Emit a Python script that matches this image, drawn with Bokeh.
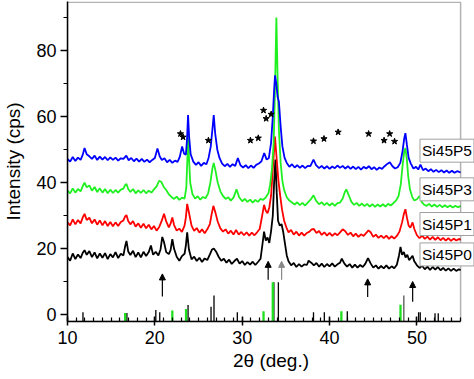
from bokeh.plotting import figure
from bokeh.models import (ColumnDataSource, Label, Arrow, NormalHead,
                          SingleIntervalTicker, BoxAnnotation)
from bokeh.embed import file_html
from bokeh.resources import INLINE

# ---------------- data ----------------
P0 = [(10.0,17.5),(10.3,16.4),(10.6,18.6),(10.9,16.9),(11.2,18.3),(11.5,17.2),(11.75,18.8),(11.95,19.6),(12.2,18.2),(12.5,19.3),(12.8,17.5),(13.1,18.9),(13.4,17.1),(13.7,18.6),(14.0,17.3),(14.3,18.7),(14.6,16.9),(14.9,18.4),(15.2,17.4),(15.5,19.0),(15.8,17.2),(16.1,18.5),(16.4,18.0),(16.6,20.8),(16.75,22.4),(16.95,19.2),(17.2,18.1),(17.5,19.4),(17.8,17.5),(18.1,18.9),(18.4,17.4),(18.7,19.1),(19.0,17.8),(19.3,19.0),(19.55,21.0),(19.8,18.2),(20.1,19.1),(20.4,18.0),(20.65,19.8),(20.85,23.6),(21.05,22.0),(21.3,19.0),(21.6,18.4),(21.8,19.6),(22.0,22.9),(22.2,20.0),(22.5,17.6),(22.8,16.4),(23.1,17.8),(23.4,18.5),(23.55,21.0),(23.7,25.0),(23.9,19.8),(24.2,16.8),(24.5,17.6),(24.8,16.3),(25.1,17.3),(25.4,16.0),(25.7,17.1),(26.0,16.6),(26.3,18.3),(26.55,19.8),(26.75,20.1),(27.0,19.2),(27.3,17.6),(27.6,16.4),(27.9,17.0),(28.2,15.8),(28.5,16.7),(28.8,15.4),(29.1,16.3),(29.4,17.0),(29.7,15.5),(30.0,16.3),(30.3,15.1),(30.6,16.0),(30.9,15.2),(31.2,16.1),(31.5,15.1),(31.8,16.0),(32.1,17.0),(32.3,21.0),(32.5,25.2),(32.7,22.5),(32.9,23.4),(33.1,21.8),(33.3,25.3),(33.5,30.0),(33.65,40.0),(33.8,47.0),(33.95,37.0),(34.1,28.5),(34.3,27.0),(34.5,27.5),(34.7,25.0),(34.9,21.5),(35.1,18.0),(35.3,16.2),(35.6,15.0),(35.9,15.7),(36.2,14.5),(36.5,15.4),(36.8,14.6),(37.1,15.3),(37.4,15.1),(37.6,16.4),(37.9,15.8),(38.2,15.0),(38.5,15.7),(38.8,14.6),(39.1,15.5),(39.4,14.5),(39.7,15.4),(40.0,14.7),(40.3,15.6),(40.6,14.6),(40.9,15.3),(41.2,15.8),(41.4,17.0),(41.7,15.5),(42.0,14.6),(42.3,15.4),(42.6,14.3),(42.9,15.2),(43.2,14.3),(43.5,15.1),(43.8,14.5),(44.1,15.5),(44.4,17.2),(44.7,15.6),(45.0,14.3),(45.3,15.0),(45.6,14.0),(45.9,14.8),(46.2,14.1),(46.5,15.0),(46.8,14.0),(47.1,14.7),(47.4,14.1),(47.7,15.2),(47.95,18.0),(48.12,20.6),(48.3,18.2),(48.5,19.0),(48.7,17.4),(48.9,18.2),(49.1,16.6),(49.3,17.2),(49.5,17.9),(49.7,16.2),(50.0,15.0),(50.3,14.2),(50.6,14.9),(50.9,13.8),(51.2,14.6),(51.5,13.6),(51.8,14.5),(52.1,13.7),(52.4,14.5),(52.7,13.5),(53.0,14.2),(53.3,13.4),(53.6,14.1),(53.9,13.3),(54.2,14.0),(54.5,13.3),(54.8,13.8),(55.0,13.5)]

P1 = [(10.0,28.0),(10.3,27.1),(10.6,28.9),(10.9,27.4),(11.2,28.7),(11.5,27.7),(11.75,29.5),(11.95,30.6),(12.2,28.7),(12.5,29.4),(12.8,27.7),(13.1,28.9),(13.4,27.3),(13.7,28.6),(14.0,27.1),(14.3,28.4),(14.6,26.9),(14.9,28.1),(15.2,26.8),(15.5,28.0),(15.8,26.9),(16.1,28.1),(16.4,28.6),(16.6,29.8),(16.75,30.2),(16.95,28.4),(17.2,27.4),(17.5,28.4),(17.8,26.7),(18.1,27.7),(18.4,26.4),(18.7,27.6),(19.0,26.2),(19.3,27.3),(19.6,25.9),(19.9,26.9),(20.2,25.5),(20.5,26.6),(20.8,28.6),(21.05,30.6),(21.3,28.3),(21.6,26.5),(21.8,27.6),(22.0,29.5),(22.2,27.2),(22.5,25.5),(22.8,26.1),(23.1,25.1),(23.4,27.0),(23.55,29.5),(23.7,33.6),(23.9,31.0),(24.2,27.0),(24.5,25.4),(24.8,26.3),(25.1,24.9),(25.4,25.9),(25.7,24.7),(26.0,25.9),(26.3,27.5),(26.5,30.5),(26.7,33.0),(26.95,30.8),(27.2,28.2),(27.5,26.2),(27.8,25.2),(28.1,25.9),(28.4,24.6),(28.7,25.5),(29.0,24.3),(29.3,25.7),(29.6,24.3),(29.9,25.1),(30.2,24.1),(30.5,25.0),(30.8,24.0),(31.1,24.9),(31.4,24.1),(31.7,25.0),(32.0,26.0),(32.25,29.5),(32.5,33.3),(32.7,31.5),(32.9,30.8),(33.1,32.5),(33.3,36.0),(33.5,44.0),(33.75,54.0),(33.95,47.0),(34.15,40.5),(34.35,36.0),(34.55,32.0),(34.8,28.5),(35.05,26.5),(35.3,25.0),(35.6,25.7),(35.9,24.3),(36.2,25.2),(36.5,24.0),(36.8,24.9),(37.1,24.0),(37.4,24.8),(37.7,25.2),(37.95,25.9),(38.2,26.0),(38.5,24.8),(38.8,25.4),(39.1,24.2),(39.4,25.0),(39.7,24.0),(40.0,24.8),(40.3,23.9),(40.6,24.7),(40.9,24.1),(41.2,25.0),(41.5,25.9),(41.8,25.3),(42.1,24.2),(42.4,24.9),(42.7,23.8),(43.0,24.6),(43.3,23.6),(43.6,24.4),(43.9,23.9),(44.2,24.8),(44.45,25.6),(44.7,25.0),(45.0,23.6),(45.3,24.3),(45.6,23.3),(45.9,24.0),(46.2,23.2),(46.5,24.0),(46.8,23.0),(47.1,23.8),(47.4,23.1),(47.7,23.9),(48.0,25.2),(48.3,28.0),(48.5,30.5),(48.68,32.0),(48.85,29.5),(49.05,27.0),(49.25,26.4),(49.5,28.0),(49.7,26.0),(50.0,24.1),(50.3,23.2),(50.6,24.0),(50.9,23.0),(51.2,23.7),(51.5,22.8),(51.8,23.6),(52.1,22.7),(52.4,23.5),(52.7,22.6),(53.0,23.3),(53.3,22.5),(53.6,23.2),(53.9,22.4),(54.2,23.1),(54.5,22.5),(54.8,23.0),(55.0,22.7)]

P3 = [(10.0,37.6),(10.3,36.8),(10.6,38.3),(10.9,37.0),(11.2,38.1),(11.5,37.4),(11.75,39.0),(11.95,40.0),(12.2,38.6),(12.5,39.2),(12.8,37.6),(13.1,38.7),(13.4,37.2),(13.7,38.3),(14.0,37.0),(14.3,38.1),(14.6,36.8),(14.9,37.9),(15.2,36.9),(15.5,37.8),(15.8,37.0),(16.1,37.9),(16.4,38.2),(16.6,39.3),(16.75,39.6),(16.95,38.1),(17.2,37.2),(17.5,38.1),(17.8,36.8),(18.1,37.7),(18.4,36.9),(18.7,37.8),(19.0,36.8),(19.3,37.6),(19.6,37.0),(19.9,38.0),(20.2,38.9),(20.49,40.6),(20.75,40.2),(21.0,38.8),(21.3,37.8),(21.6,36.5),(21.9,35.7),(22.2,35.1),(22.5,35.8),(22.8,34.8),(23.1,35.5),(23.4,35.2),(23.6,38.5),(23.72,47.0),(23.8,57.0),(23.9,48.0),(24.05,40.0),(24.3,36.6),(24.6,35.2),(24.9,35.9),(25.2,34.9),(25.5,35.7),(25.8,35.3),(26.1,36.8),(26.35,40.0),(26.6,44.5),(26.74,46.0),(26.95,43.5),(27.2,40.0),(27.5,37.4),(27.8,36.0),(28.1,35.1),(28.4,35.6),(28.7,34.6),(29.0,35.5),(29.35,38.0),(29.65,35.6),(30.0,34.4),(30.3,35.1),(30.6,34.2),(30.9,34.9),(31.2,34.0),(31.5,34.8),(31.8,34.2),(32.1,35.1),(32.4,34.8),(32.7,35.6),(33.0,36.8),(33.2,39.5),(33.4,44.0),(33.6,52.0),(33.75,68.0),(33.91,90.0),(34.05,72.0),(34.2,56.0),(34.4,46.0),(34.6,40.5),(34.8,37.8),(35.1,35.6),(35.4,34.6),(35.7,34.0),(36.0,33.4),(36.3,34.1),(36.6,33.2),(36.9,33.9),(37.2,33.1),(37.5,34.0),(37.8,34.8),(38.16,36.2),(38.45,34.6),(38.8,33.5),(39.1,34.1),(39.4,33.2),(39.7,33.9),(40.0,33.1),(40.3,33.8),(40.6,33.0),(40.9,33.8),(41.2,34.0),(41.5,35.2),(41.75,37.2),(41.92,38.0),(42.2,36.2),(42.5,34.2),(42.8,33.3),(43.1,33.9),(43.4,33.0),(43.7,33.7),(44.0,32.9),(44.3,33.6),(44.6,32.8),(44.9,33.5),(45.2,32.7),(45.5,33.4),(45.8,32.8),(46.1,33.5),(46.4,32.8),(46.7,33.6),(47.0,33.1),(47.3,33.8),(47.6,34.6),(47.9,36.0),(48.15,39.5),(48.35,45.0),(48.55,49.5),(48.68,50.5),(48.85,47.0),(49.0,42.0),(49.2,38.0),(49.45,35.8),(49.7,34.6),(50.0,35.0),(50.3,36.0),(50.55,34.2),(50.8,33.4),(51.1,33.0),(51.4,33.6),(51.7,32.8),(52.0,33.4),(52.3,32.7),(52.6,33.3),(52.9,32.6),(53.2,33.2),(53.5,32.6),(53.8,33.1),(54.1,32.5),(54.4,33.0),(54.7,32.6),(55.0,32.9)]

P5 = [(10.0,47.2),(10.3,46.4),(10.6,47.8),(10.9,46.6),(11.2,47.6),(11.5,46.9),(11.75,48.5),(11.95,50.5),(12.2,48.6),(12.5,48.0),(12.8,47.2),(13.1,48.2),(13.4,46.9),(13.7,47.9),(14.0,47.0),(14.3,47.8),(14.6,46.8),(14.9,47.7),(15.2,46.9),(15.5,47.6),(15.8,46.7),(16.1,47.4),(16.4,47.2),(16.73,48.2),(17.0,46.8),(17.3,47.5),(17.6,46.5),(17.9,47.3),(18.2,46.4),(18.5,47.2),(18.8,46.3),(19.1,47.0),(19.4,46.2),(19.7,46.9),(20.0,47.5),(20.3,50.4),(20.55,48.0),(20.8,46.9),(21.1,47.4),(21.4,46.2),(21.7,46.9),(22.0,46.0),(22.3,46.7),(22.6,46.3),(22.85,47.8),(23.12,51.0),(23.35,48.8),(23.55,48.5),(23.68,53.0),(23.8,60.5),(23.92,54.0),(24.1,48.6),(24.4,46.4),(24.7,45.4),(25.0,46.2),(25.3,45.1),(25.6,46.0),(25.9,45.6),(26.15,47.5),(26.4,51.0),(26.6,56.5),(26.74,60.5),(26.9,55.0),(27.15,50.0),(27.4,47.5),(27.7,45.8),(28.0,45.0),(28.3,45.7),(28.6,44.8),(28.9,45.6),(29.2,45.1),(29.5,47.5),(29.8,45.3),(30.1,44.6),(30.4,45.3),(30.7,44.4),(31.0,45.2),(31.3,44.5),(31.6,45.4),(31.9,45.8),(32.2,46.5),(32.52,49.0),(32.8,47.0),(33.05,47.5),(33.3,52.0),(33.5,60.0),(33.65,68.0),(33.76,72.5),(33.9,70.0),(34.05,66.0),(34.2,64.5),(34.4,57.0),(34.6,51.0),(34.85,47.5),(35.1,46.0),(35.4,44.8),(35.7,45.6),(36.0,44.6),(36.3,45.3),(36.6,44.5),(36.9,45.2),(37.2,44.4),(37.5,45.1),(37.8,45.0),(38.16,47.0),(38.45,45.3),(38.8,44.4),(39.1,45.1),(39.4,44.3),(39.7,45.0),(40.0,44.2),(40.3,44.9),(40.6,44.4),(40.9,45.2),(41.2,44.5),(41.5,45.1),(41.8,44.3),(42.1,45.0),(42.4,44.2),(42.7,44.9),(43.0,44.1),(43.3,44.8),(43.6,44.0),(43.9,44.8),(44.2,44.3),(44.5,45.0),(44.8,44.1),(45.1,44.7),(45.4,43.9),(45.7,44.6),(46.0,44.2),(46.3,45.0),(46.6,45.7),(46.9,46.2),(47.2,45.0),(47.5,44.3),(47.8,44.7),(48.1,46.0),(48.35,49.5),(48.55,53.5),(48.68,55.0),(48.85,51.5),(49.05,47.5),(49.3,45.8),(49.6,44.3),(49.9,44.8),(50.15,44.0),(50.4,45.5),(50.7,43.8),(51.0,44.3),(51.3,43.5),(51.6,44.1),(51.9,43.3),(52.2,43.9),(52.5,43.2),(52.8,43.8),(53.1,43.1),(53.4,43.7),(53.7,43.0),(54.0,43.6),(54.3,43.0),(54.6,43.5),(55.0,43.1)]

series_names = ["Si45P0", "Si45P1", "Si45P3", "Si45P5"]
series_colors = ["#000000", "#ff0000", "#1ff01f", "#0000ff"]
label_y = [18.3, 27.5, 38.0, 49.7]

# reference stick patterns (position, height)
black_stick_x = [11.77, 16.8, 20.11, 20.56, 23.8, 26.43, 26.77, 29.44, 33.62, 34.14, 38.16, 39.4, 42.03, 50.19, 50.38, 52.07, 52.44]
black_stick_h = [0.8, 0.6, 1.5, 0.8, 3.0, 2.5, 5.9, 0.8, 9.9, 9.9, 0.8, 0.8, 1.1, 0.8, 0.8, 0.5, 0.5]
gray_stick_x = [48.5]
gray_stick_h = [5.9]
green_stick_x = [16.6, 22.0, 23.57, 32.44, 33.5, 41.35, 48.12]
green_stick_h = [0.6, 1.3, 1.8, 1.1, 9.9, 1.1, 3.1]

# star markers
star_x = [22.93, 23.23, 26.13, 30.94, 31.84, 32.44, 32.74, 33.31, 38.16, 39.36, 40.98, 44.47, 46.24, 46.88, 47.44]
star_y = [54.8, 53.8, 52.8, 52.8, 53.5, 61.9, 59.4, 60.7, 52.6, 53.3, 55.3, 54.8, 52.8, 54.8, 52.5]

# arrows (x, start y, end y)
arrow_x = [20.86, 32.97, 44.36, 49.51]
arrow_y0 = [5.6, 10.6, 5.4, 4.0]
arrow_y1 = [12.4, 16.2, 10.9, 10.1]
gray_arrow_x = [34.51]
gray_arrow_y0 = [10.6]
gray_arrow_y1 = [16.2]

X_MIN, X_MAX = 10, 55
Y_MIN, Y_MAX = -2, 94.85
FONT = "Liberation Sans"

# frame runs to the right edge of the canvas so the label boxes can overhang
p = figure(width=474, height=379, x_range=(X_MIN, 56.59), y_range=(Y_MIN, Y_MAX),
           output_backend="svg", toolbar_location=None,
           min_border_left=63, min_border_right=0, min_border_top=1,
           min_border_bottom=58)
p.background_fill_color = "white"
p.border_fill_color = "white"
p.outline_line_color = None
p.xgrid.visible = False
p.ygrid.visible = False

# plot box (right and top edges)
p.add_layout(BoxAnnotation(left=X_MIN, right=X_MAX, bottom=Y_MIN, top=Y_MAX - 0.25,
                           fill_alpha=0, line_color="black", line_width=1.5))

# sticks from the bottom of the frame
p.segment(x0=black_stick_x, y0=[Y_MIN] * len(black_stick_x), x1=black_stick_x,
          y1=black_stick_h, line_color="black", line_width=1.3)
p.segment(x0=gray_stick_x, y0=[Y_MIN] * len(gray_stick_x), x1=gray_stick_x,
          y1=gray_stick_h, line_color="#555555", line_width=1.3)
p.segment(x0=green_stick_x, y0=[Y_MIN] * len(green_stick_x), x1=green_stick_x,
          y1=green_stick_h, line_color="#1ee01e", line_width=2.3)

for data, color in zip([P0, P1, P3, P5], series_colors):
    xs = [a for a, b in data]
    ys = [b for a, b in data]
    p.line(xs, ys, line_color=color, line_width=1.8)

p.scatter(star_x, star_y, marker="star", size=6.5, fill_color="black",
          line_color="black")

asrc = ColumnDataSource(dict(x=arrow_x, y0=arrow_y0, y1=arrow_y1))
p.add_layout(Arrow(end=NormalHead(size=6, fill_color="black", line_color="black"),
                   x_start="x", y_start="y0", x_end="x", y_end="y1",
                   source=asrc, line_color="black", line_width=1.2))
gsrc = ColumnDataSource(dict(x=gray_arrow_x, y0=gray_arrow_y0, y1=gray_arrow_y1))
p.add_layout(Arrow(end=NormalHead(size=6, fill_color="#888888", line_color="#888888"),
                   x_start="x", y_start="y0", x_end="x", y_end="y1",
                   source=gsrc, line_color="#888888", line_width=1.2))

# label boxes
pad = dict(left=2, right=2, top=3, bottom=3)
for name, ly in zip(series_names, label_y):
    shadow = Label(x=50.35, y=ly, text=name, text_font=FONT, text_font_size="15.5px",
                   text_baseline="middle", text_align="left", x_offset=2, y_offset=-1.5,
                   text_alpha=0.0, background_fill_color="#8a8a8a", padding=pad)
    p.add_layout(shadow)
    lab = Label(x=50.35, y=ly, text=name, text_font=FONT, text_font_size="15.5px",
                text_baseline="middle", text_align="left", text_color="black",
                background_fill_color="white", border_line_color="#a0a0a0",
                border_line_width=1, padding=pad)
    p.add_layout(lab)

# axes
p.xaxis.ticker = SingleIntervalTicker(interval=10, num_minor_ticks=10)
p.yaxis.ticker = SingleIntervalTicker(interval=20, num_minor_ticks=2)
p.xaxis.bounds = (X_MIN, X_MAX)
for ax in (p.xaxis[0], p.yaxis[0]):
    ax.axis_line_width = 1.5
    ax.major_tick_line_width = 1.5
    ax.minor_tick_line_width = 1.2
    ax.major_label_text_font = FONT
    ax.major_label_text_font_size = "18px"
    ax.major_label_text_color = "black"
    ax.axis_label_text_font = FONT
    ax.axis_label_text_font_size = "19px"
    ax.axis_label_text_font_style = "normal"
    ax.axis_label_text_color = "black"

p.xaxis.axis_label = "2θ (deg.)"
p.xaxis.major_tick_in = 5
p.xaxis.major_tick_out = 4
p.xaxis.minor_tick_in = 4
p.xaxis.minor_tick_out = 0
p.xaxis.major_label_standoff = 5
p.xaxis.axis_label_standoff = 3

p.yaxis.axis_label = "Intensity (cps)"
p.yaxis.major_tick_in = 0
p.yaxis.major_tick_out = 7
p.yaxis.minor_tick_in = 0
p.yaxis.minor_tick_out = 4
p.yaxis.major_label_standoff = 4
p.yaxis.axis_label_standoff = 9

open("out.html", "w").write(file_html(p, INLINE))
